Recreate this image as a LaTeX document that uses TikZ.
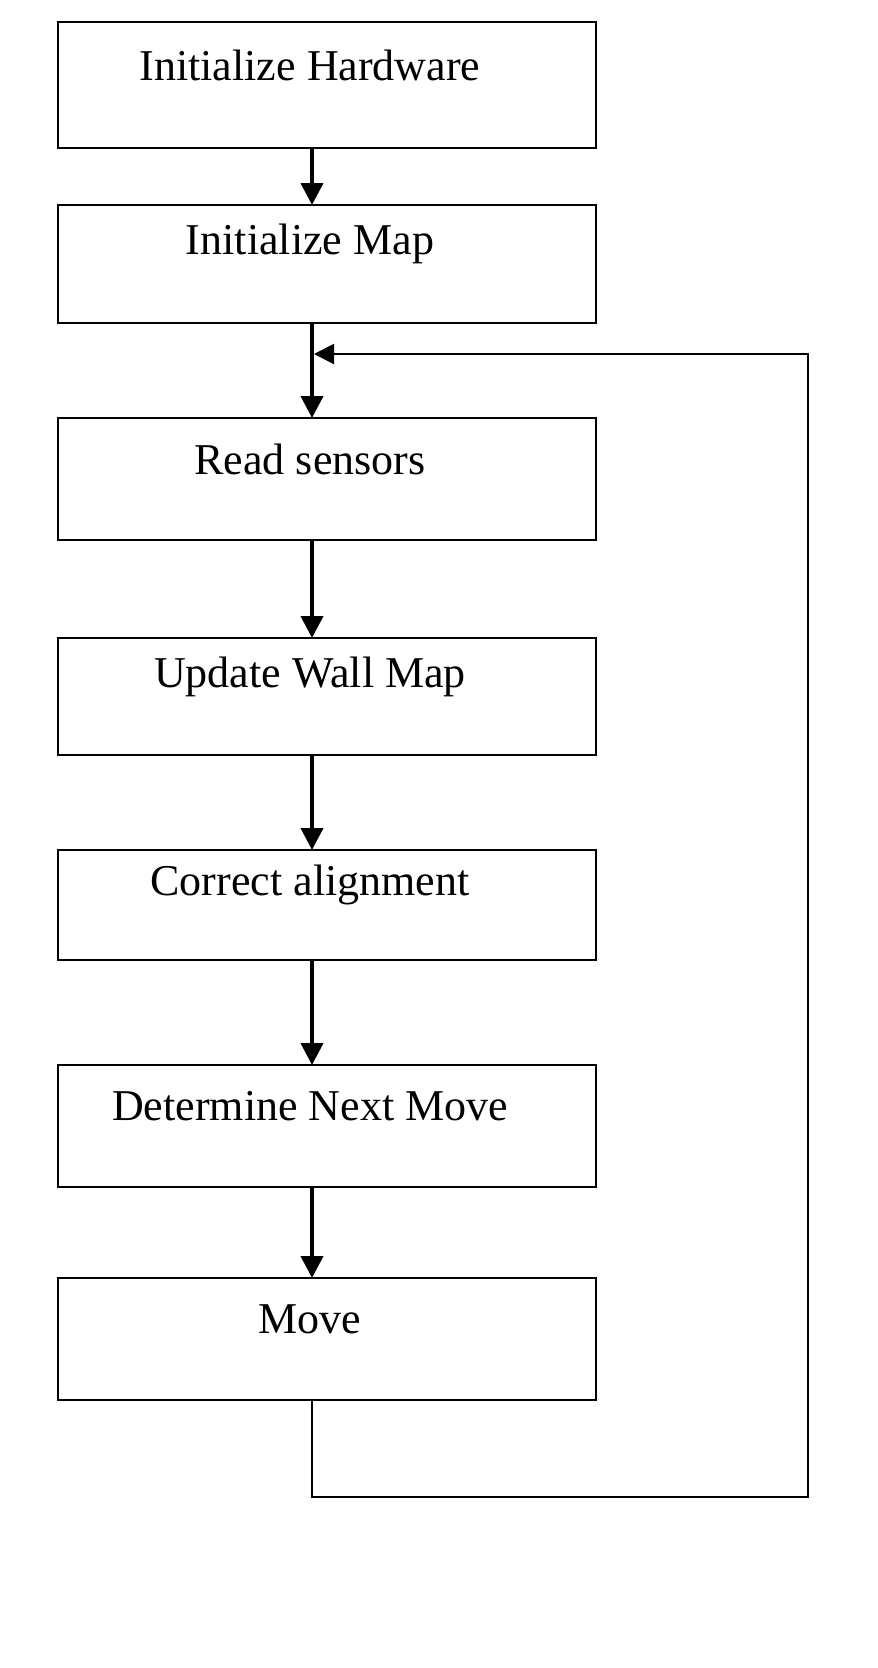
\documentclass[tikz,border=0pt]{standalone}
\usepackage{fontspec}
\setmainfont{Liberation Serif}
\usetikzlibrary{arrows.meta}
\begin{document}
\begin{tikzpicture}[x=1pt,y=-1pt,
  lbl/.style={font=\fontsize{44}{46}\selectfont},
  flow/.style={line width=4pt,-{Triangle[length=22pt,width=22pt]}},
  loop/.style={line width=2pt,-{Triangle[length=20pt,width=20pt]}}]
\useasboundingbox (0,0) rectangle (878,1668);
\newcommand\mybox[4]{%
  \draw[line width=2pt] (58,#2) rectangle (596,#3);
  \coordinate (#1t) at (312,#2); \coordinate (#1b) at (312,#3);
  \node[lbl] (#1) at (310,{(#2+#3)/2-20}) {#4};}
\mybox{a}{22}{148}{Initialize Hardware}
\mybox{b}{205}{323}{Initialize Map}
\mybox{c}{418}{540}{Read sensors}
\mybox{d}{638}{755}{Update Wall Map}
\mybox{e}{850}{960}{Correct alignment}
\mybox{f}{1065}{1187}{Determine Next Move}
\mybox{g}{1278}{1400}{Move}
\draw[flow] (ab) -- (bt);
\draw[flow] (bb) -- (ct);
\draw[flow] (cb) -- (dt);
\draw[flow] (db) -- (et);
\draw[flow] (eb) -- (ft);
\draw[flow] (fb) -- (gt);
\coordinate (l1) at (312,1497);
\coordinate (l2) at (808,1497);
\coordinate (l3) at (808,354);
\coordinate (l4) at (314,354);
\draw[loop] (gb) -- (l1) -- (l2) -- (l3) -- (l4);
\end{tikzpicture}
\end{document}
